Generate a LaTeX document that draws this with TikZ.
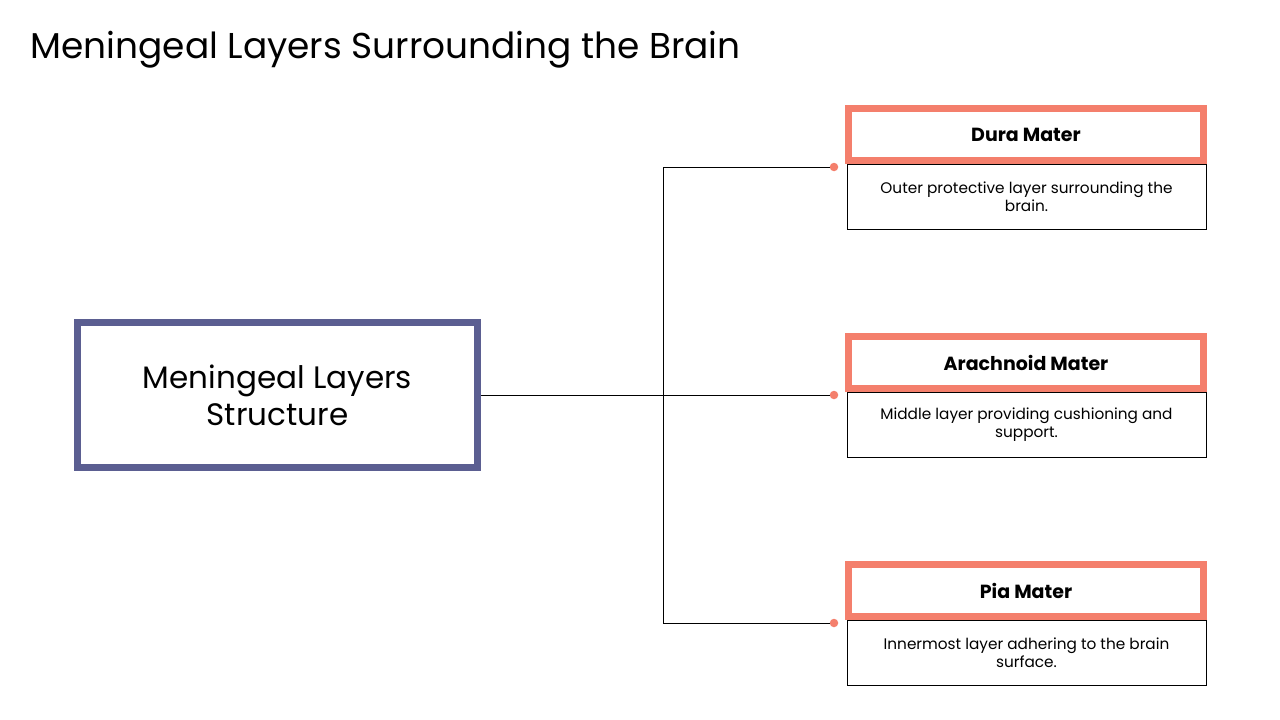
\documentclass[tikz,border=0pt]{standalone}
\usepackage{fontspec}
\setmainfont{Poppins}
\definecolor{salmon}{HTML}{F47F6C}
\definecolor{slate}{HTML}{5B5E91}
\begin{document}
\begin{tikzpicture}[x=1pt,y=-1pt,
  headbox/.style={draw=salmon,line width=7pt,minimum width=355pt,minimum height=52pt,inner sep=0pt,
    font=\fontsize{19}{22}\selectfont\bfseries},
  descbox/.style={draw=black,line width=0.9pt,minimum width=359pt,minimum height=65pt,inner sep=0pt,
    align=center,font=\fontsize{15.3}{18}\selectfont},
  mainbox/.style={draw=slate,line width=7pt,minimum width=400pt,minimum height=145pt,inner sep=0pt,
    align=center,font=\fontsize{31}{37}\selectfont},
  conn/.style={draw=black,line width=0.9pt},
  dotc/.style={circle,fill=salmon,inner sep=0pt,minimum size=8.5pt}]
\useasboundingbox (0,0) rectangle (1280,720);
\node[anchor=base west,font=\fontsize{35.9}{40}\selectfont] (title) at (27,58) {Meningeal Layers Surrounding the Brain};
\node[mainbox] (main) at (277.5,395) {Meningeal Layers\\Structure};
\foreach \i/\y/\h/\d in {1/134.5/Dura Mater/{Outer protective layer surrounding the\\brain.},
                         2/362.5/Arachnoid Mater/{Middle layer providing cushioning and\\support.},
                         3/590.5/Pia Mater/{Innermost layer adhering to the brain\\surface.}}{
  \node[descbox,anchor=north] (d\i) at (1026.5,\y+29.5) {\d};
  \node[headbox] (h\i) at (1026,\y) {\h};
  \node[dotc] (p\i) at (834,\y+32.5) {};
}
\coordinate (junc) at (663,395);
\draw[conn] (main.east) -- (p2);
\draw[conn] (junc) |- (p1);
\draw[conn] (junc) |- (p3);
\end{tikzpicture}
\end{document}
